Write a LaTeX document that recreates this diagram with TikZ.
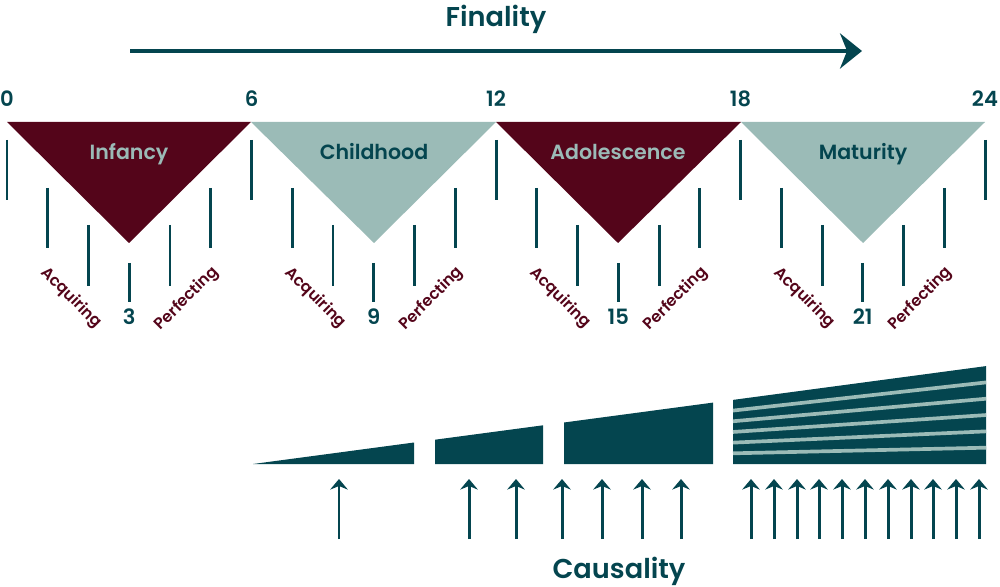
\documentclass[tikz,border=0pt]{standalone}
\usepackage{fontspec}
\setmainfont{Poppins}[BoldFont={* SemiBold}]
\usepackage{tikz}
\usetikzlibrary{positioning, arrows.meta, calc}
\usepackage{xcolor}
\definecolor{lifeteal}{HTML}{04454F}
\definecolor{lifered}{HTML}{54051A}
\definecolor{lifemint}{HTML}{9BBBB7}

\begin{document}
\begin{tikzpicture}[x=0.02cm, y=-0.02cm, font=\bfseries,
    tick/.style={lifeteal, line width=1.7pt},
    stage/.style={font=\fontsize{11.7}{14}\selectfont\bfseries, anchor=base},
    year/.style={text=lifeteal, font=\fontsize{12}{14}\selectfont\bfseries, anchor=base},
    phase/.style={text=lifered, font=\fontsize{9}{10}\selectfont\bfseries, inner sep=0pt},
    cause/.style={lifeteal, line width=1.7pt, -{Stealth[length=6pt, width=10pt, inset=2pt]}},
    flow/.style={lifeteal, line width=2.3pt, -{Stealth[length=12.5pt, width=20pt, inset=4pt]}},
    title/.style={text=lifeteal, font=\fontsize{15.5}{18}\selectfont\bfseries, anchor=base}]
  \useasboundingbox (0,0) rectangle (1000,587);

  % finality
  \node[title] (finality) at (496,27) {Finality};
  \coordinate (fstart) at (130,51);
  \coordinate (fend) at (862,51);
  \draw[flow] (fstart) -- (fend);

  % stages
  \fill[lifered] (7,122) -- (251,122) -- (129,243) -- cycle;
  \fill[lifemint] (251,122) -- (496,122) -- (374,243) -- cycle;
  \fill[lifered] (496,122) -- (741,122) -- (618,243) -- cycle;
  \fill[lifemint] (741,122) -- (985,122) -- (863,243) -- cycle;
  \node[stage, text=lifemint] (infancy) at (129,160) {Infancy};
  \node[stage, text=lifeteal] (childhood) at (374,160) {Childhood};
  \node[stage, text=lifemint] (adolescence) at (618,160) {Adolescence};
  \node[stage, text=lifeteal] (maturity) at (863,160) {Maturity};

  % years and ticks
  \foreach \n in {0,6,...,24} {
    \node[year] (y\n) at ({7+\n*40.75},107) {\n};
    \draw[tick] ({7+\n*40.75},140) -- ++(0,60);
  }
  \foreach \s in {0,...,3} {
    \foreach \o/\ya/\yb in {1/188/248, 2/225/286, 3/263/302, 4/225/286, 5/188/248}
      \draw[tick] ({7+(6*\s+\o)*40.75},\ya) -- ({7+(6*\s+\o)*40.75},\yb);
    \pgfmathtruncatemacro\mid{6*\s+3}
    \node[year] (y\mid) at ({7+\mid*40.75},324) {\mid};
    \node[phase, rotate=-45] (acq\s) at ({71+\s*244.5},298) {Acquiring};
    \node[phase, rotate=45] (perf\s) at ({187+\s*244.5},299) {Perfecting};
  }

  % causality
  \fill[lifeteal] (253,464) -- (414,442.5) -- (414,464) -- cycle;
  \fill[lifeteal] (435,464) -- (435,439.7) -- (543,425.3) -- (543,464) -- cycle;
  \fill[lifeteal] (564,464) -- (564,422.5) -- (713,402.6) -- (713,464) -- cycle;
  \fill[lifeteal] (733,464) -- (733,399.9) -- (986,366.1) -- (986,464) -- cycle;
  \foreach \k in {1,...,5}
    \draw[lifemint, line width=2.1pt] (733,{399.9+64.1*\k/6}) -- (986,{366.1+97.9*\k/6});

  \foreach \x [count=\i] in {339,469,516,562,602,642,681,751,774,797,819,842,865,888,911,933,956,979} {
    \coordinate (c\i a) at (\x,539);
    \coordinate (c\i b) at (\x,479);
    \draw[cause] (c\i a) -- (c\i b);
  }
  \node[title] (causality) at (619,578) {Causality};
\end{tikzpicture}
\end{document}
